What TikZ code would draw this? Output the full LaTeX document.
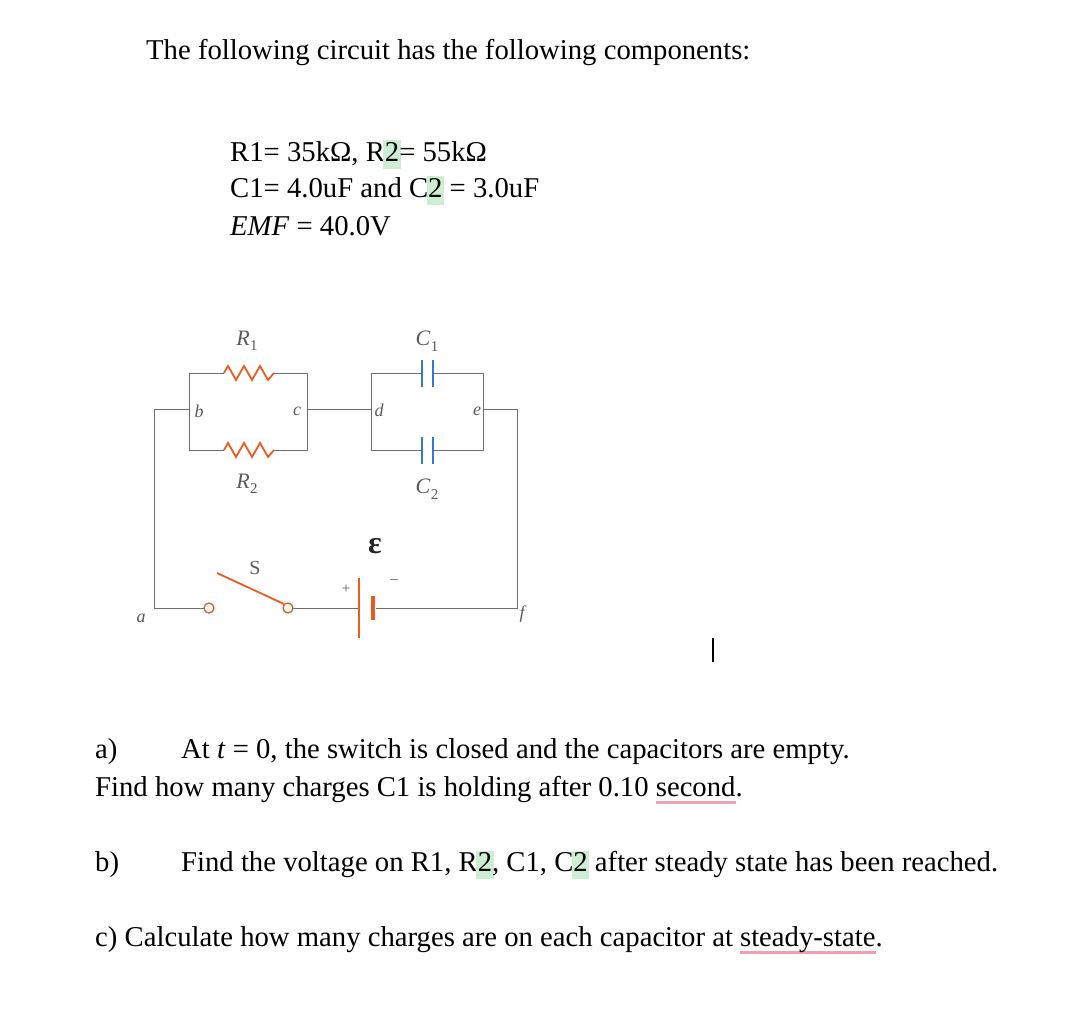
\documentclass[tikz,border=0pt]{standalone}
\usepackage{fontspec}
\setmainfont{Liberation Serif}
\definecolor{hl}{RGB}{205,238,210}
\definecolor{ulpink}{RGB}{240,160,175}
\definecolor{wire}{RGB}{110,110,110}
\definecolor{rorange}{RGB}{235,90,30}
\definecolor{cblue}{RGB}{50,120,220}
\definecolor{lbl}{RGB}{90,90,90}
\newcommand\hlx[1]{{\setlength\fboxsep{1.5pt}\hspace{-1.5pt}\colorbox{hl}{\vphantom{Rg}#1}\hspace{-1.5pt}}}
\newcommand\pinkul[1]{\sbox0{#1}\rlap{\color{ulpink}\rule[-8pt]{\wd0}{3.5pt}}#1}
\newcommand\isub[2]{\textit{#1}\kern0.5pt\raisebox{-0.25em}{\fontsize{15}{16}\selectfont #2}}
\begin{document}
\begin{tikzpicture}[x=1pt,y=-1pt,
  txt/.style={anchor=base west,inner sep=0pt,font=\fontsize{28.7}{32}\selectfont},
  clbl/.style={inner sep=0pt,text=lbl,font=\fontsize{22}{24}\selectfont},
  slbl/.style={inner sep=0pt,text=lbl,font=\itshape\fontsize{18}{20}\selectfont},
  w/.style={draw=wire,line width=0.8pt},
  res/.style={draw=rorange,line width=1.8pt,line join=miter},
  capplate/.style={draw=cblue,line width=1.8pt},
  term/.style={circle,draw=rorange,line width=1.3pt,fill=white,minimum size=10pt,inner sep=0pt}]
\useasboundingbox (0,0) rectangle (1086,1030);
\node[txt] (t0) at (146,60) {The following circuit has the following components:};
\node[txt] (t1) at (230,161) {R1= 35kΩ, R\hlx{2}= 55kΩ};
\node[txt] (t2) at (230,197) {C1= 4.0uF and C\hlx{2} = 3.0uF};
\node[txt] (t3) at (230,235) {\textit{EMF} = 40.0V};
% circuit
\coordinate (a) at (154,608); \coordinate (aw) at (154,409);
\coordinate (b) at (189,409); \coordinate (c) at (307,409);
\coordinate (d) at (371,409); \coordinate (e) at (483,409);
\coordinate (ew) at (517,409); \coordinate (f) at (517,608);
\draw[w] (b) -- (aw) -- (a) -- (205,608);
\draw[w] (189,373) -- (224,373) (274,373) -- (307,373) -- (307,450) -- (274,450) (224,450) -- (189,450) -- (189,373);
\draw[w] (c) -- (d);
\draw[w] (371,373) -- (422,373) (433,373) -- (483,373) -- (483,450) -- (433,450) (422,450) -- (371,450) -- (371,373);
\draw[w] (e) -- (ew) -- (f) -- (376,608);
\draw[w] (292,608) -- (359,608);
% resistors
\foreach \yy in {373,450}{
\draw[res] (224,\yy) -- (228,\yy-7) -- (236,\yy+7) -- (244,\yy-7) -- (252,\yy+7) -- (260,\yy-7) -- (268,\yy+7) -- (274,\yy);}
% capacitors
\draw[capplate] (422,360) -- (422,387) (433,360) -- (433,387);
\draw[capplate] (422,437) -- (422,464) (433,437) -- (433,464);
% switch
\node[term] (s1) at (209,608) {};
\node[term] (s2) at (288,608) {};
\draw[draw=rorange,line width=1.8pt] (s2.north west) -- (217,573);
% battery
\draw[draw=rorange,line width=1.8pt] (359,578) -- (359,638);
\draw[draw=rorange,line width=4pt] (373,596) -- (373,620);
% labels
\node[slbl] at (141,618) {a};
\node[slbl] at (522,614) {f};
\node[slbl] at (199,411) {b};
\node[slbl] at (297,411) {c};
\node[slbl] at (379,410) {d};
\node[slbl] at (477,411) {e};
\node[clbl] at (247,341) {\isub{R}{1}};
\node[clbl] at (247,484) {\isub{R}{2}};
\node[clbl] at (427,341) {\isub{C}{1}};
\node[clbl] at (427,489) {\isub{C}{2}};
\node[clbl,font=\fontsize{20}{22}\selectfont] at (255,568) {S};
\node[clbl,text=black!85,font=\bfseries\fontsize{32}{34}\selectfont] at (375,546) {ε};
\node[clbl,font=\fontsize{15}{17}\selectfont] at (346,589) {+};
\node[clbl,font=\fontsize{15}{17}\selectfont] at (394,582) {--};
% cursor
\draw[black,line width=1.2pt] (713,638) -- (713,662);
% questions
\node[txt] (qa) at (95,758) {a)};
\node[txt] (qa2) at (181,758) {At \textit{t} = 0, the switch is closed and the capacitors are empty.};
\node[txt] (qa3) at (95,796) {Find how many charges C1 is holding after 0.10 \pinkul{second}.};
\node[txt] (qb) at (95,871) {b)};
\node[txt] (qb2) at (181,871) {Find the voltage on R1, R\hlx{2}, C1, C\hlx{2} after steady state has been reached.};
\node[txt] (qc) at (95,946) {c) Calculate how many charges are on each capacitor at \pinkul{steady-state}.};
\end{tikzpicture}
\end{document}
